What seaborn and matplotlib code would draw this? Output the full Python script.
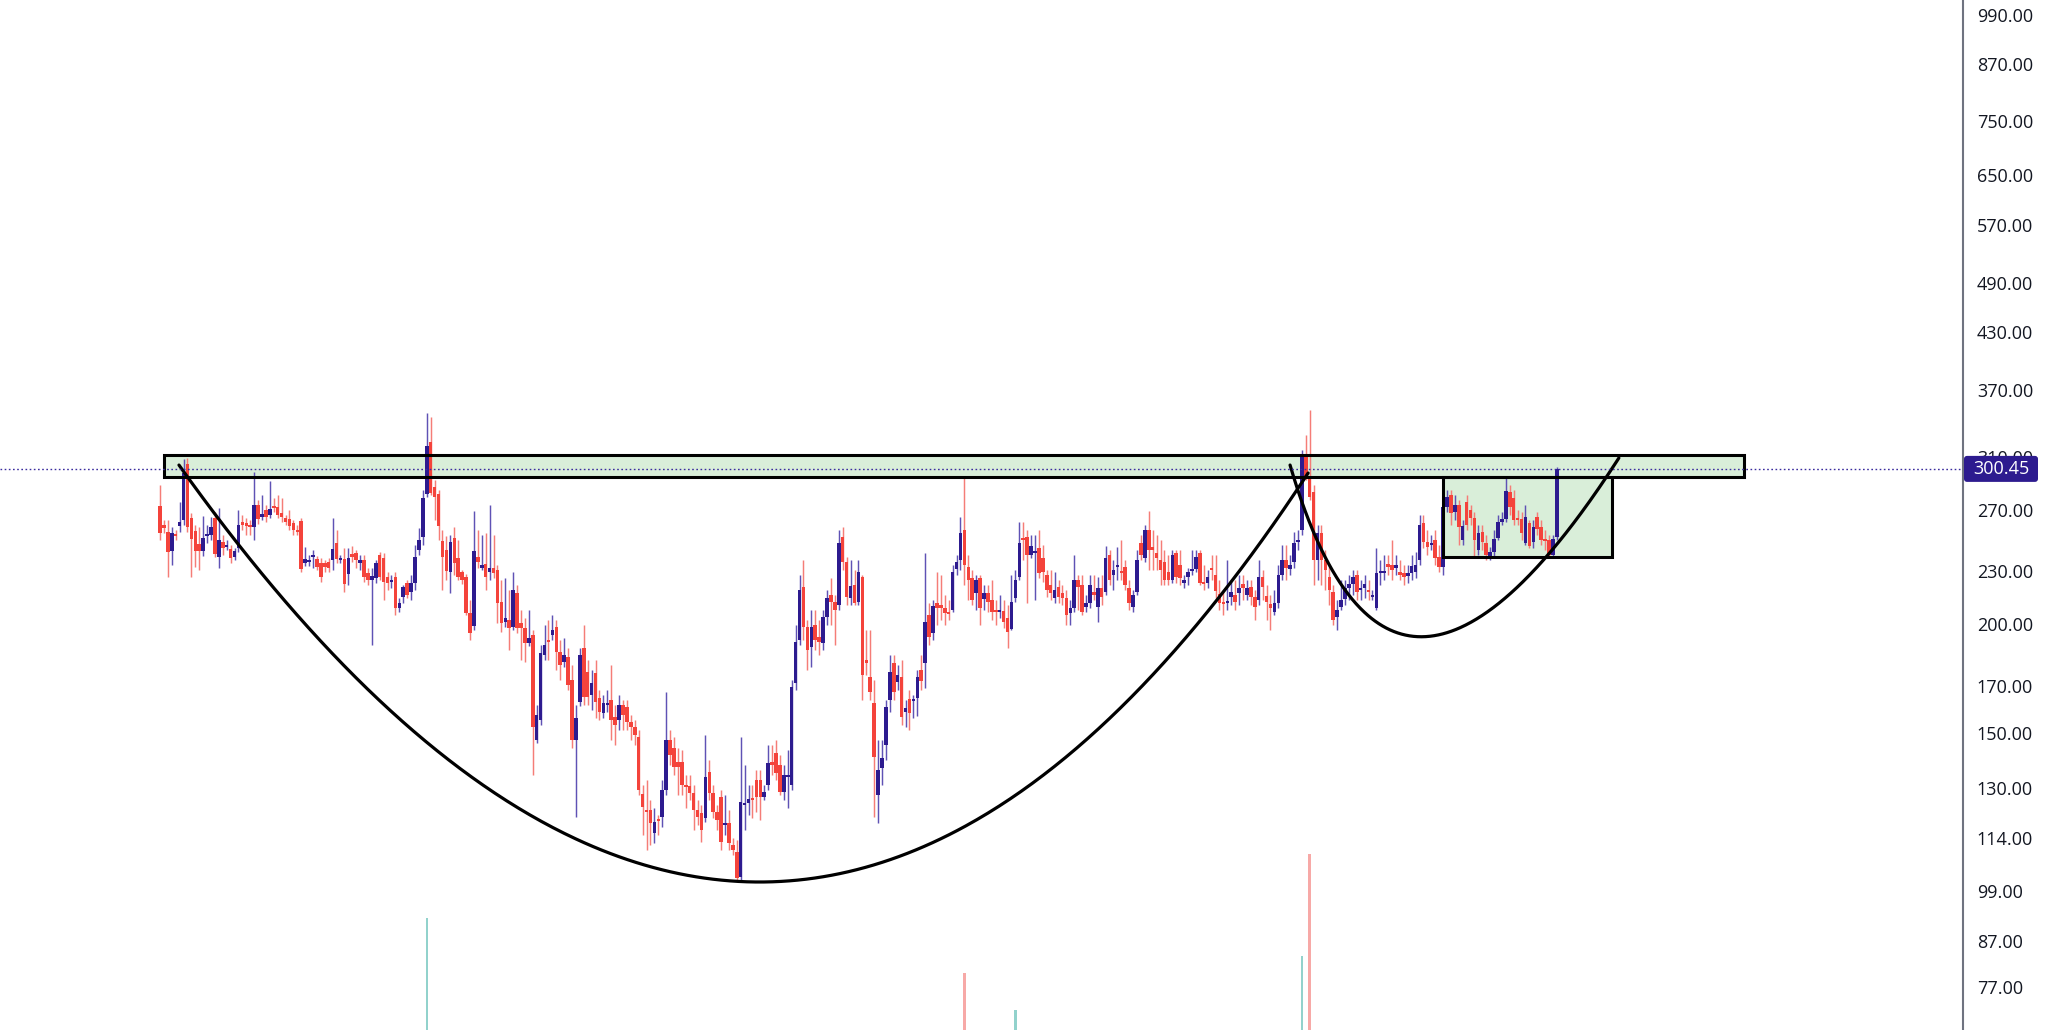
import numpy as np
import matplotlib
matplotlib.use("Agg")
import matplotlib.pyplot as plt
from matplotlib.patches import Rectangle, FancyBboxPatch
from matplotlib.ticker import FixedLocator, FixedFormatter, NullLocator
from matplotlib.transforms import IdentityTransform
import seaborn as sns

# ---------------- data ----------------
opens = [
    272.5, 259.2, 254.5, 242.2, 253.2, 258.4, 262.6, 304.1, 264.0, 255.2,
    246.7, 242.2, 251.9, 252.5, 264.0, 238.5, 248.0, 244.7, 243.5, 238.5,
    244.1, 261.2, 260.5, 259.2, 257.8, 273.2, 264.7, 269.7, 266.1, 272.5,
    271.8, 267.5, 264.0, 263.3, 260.5, 255.8, 261.9, 234.6, 235.3, 238.5,
    237.1, 234.6, 234.6, 235.3, 236.5, 247.3, 236.5, 237.1, 228.0, 240.3,
    241.0, 234.6, 236.5, 228.6, 224.4, 225.6, 239.7, 237.8, 226.2, 223.2,
    226.2, 208.5, 214.6, 222.6, 217.4, 222.6, 242.8, 251.2, 281.0, 322.7,
    286.3, 281.0, 248.6, 242.8, 229.2, 250.6, 237.8, 229.2, 226.2, 205.8,
    198.8, 238.5, 231.6, 234.0, 229.2, 231.6, 230.4, 211.8, 200.9, 202.0,
    198.3, 216.8, 200.4, 197.7, 190.1, 194.1, 147.3, 155.3, 184.2, 191.6,
    194.1, 198.3, 185.7, 180.8, 183.2, 172.5, 147.3, 162.7, 187.7, 176.1,
    165.8, 175.7, 164.5, 158.2, 161.5, 163.6, 156.5, 155.3, 161.5, 160.6,
    154.5, 152.5, 148.5, 127.8, 122.6, 122.6, 115.4, 119.4, 120.4, 129.2,
    147.3, 144.2, 139.1, 139.1, 130.9, 130.5, 128.2, 122.6, 121.6, 120.1,
    135.5, 128.2, 122.0, 126.9, 117.8, 118.5, 111.8, 109.8, 102.8, 124.2,
    124.9, 126.6, 132.6, 132.6, 126.9, 130.9, 139.1, 142.4, 138.0, 128.5,
    133.7, 130.9, 171.1, 191.6, 220.3, 198.3, 188.2, 199.3, 193.1, 190.1,
    203.6, 215.7, 211.8, 210.1, 251.2, 235.3, 214.0, 221.5, 211.8, 226.2,
    181.8, 173.9, 162.3, 127.5, 136.9, 145.4, 163.6, 180.3, 171.6, 173.9,
    158.6, 164.0, 163.2, 164.5, 177.1, 180.3, 204.7, 195.2, 211.2, 210.1,
    208.5, 206.3, 207.4, 231.0, 236.5, 255.8, 232.2, 225.6, 216.8, 225.6,
    213.4, 216.8, 212.9, 207.4, 206.3, 206.9, 203.1, 197.2, 214.0, 226.2,
    250.6, 251.2, 239.7, 241.0, 244.1, 237.8, 227.4, 221.5, 214.0, 220.3,
    216.8, 214.0, 205.8, 208.5, 224.4, 221.5, 209.0, 211.2, 217.4, 209.0,
    219.7, 217.4, 239.7, 227.4, 232.2, 229.2, 232.2, 219.7, 209.0, 217.4,
    247.3, 237.8, 255.8, 244.7, 241.0, 236.5, 235.3, 229.2, 224.4, 241.0,
    233.4, 222.6, 226.2, 229.8, 231.0, 241.0, 222.6, 222.6, 231.6, 227.4,
    216.2, 211.2, 211.2, 214.6, 215.7, 216.8, 222.0, 215.7, 220.3, 214.6,
    212.9, 226.2, 215.1, 210.7, 206.3, 211.2, 227.4, 236.5, 231.0, 235.3,
    248.0, 255.8, 310.0, 294.0, 282.5, 236.5, 253.8, 236.5, 226.2, 217.4,
    203.6, 209.0, 213.4, 219.7, 222.0, 227.4, 218.5, 219.7, 217.9, 214.6,
    208.5, 228.6, 228.6, 234.0, 233.4, 231.6, 229.2, 228.6, 226.8, 228.6,
    229.2, 236.5, 260.5, 248.0, 246.0, 249.3, 238.5, 232.2, 271.8, 280.3,
    268.3, 273.2, 249.3, 275.4, 269.7, 264.0, 242.8, 254.5, 247.3, 238.5,
    241.5, 250.6, 261.2, 263.3, 282.5, 278.2, 264.0, 263.3, 247.3, 260.5,
    248.0, 264.7, 257.8, 249.9, 249.3, 239.7, 251.2,
]
closes = [
    253.8, 257.2, 241.5, 253.8, 251.9, 261.2, 297.2, 257.8, 249.9, 242.2,
    242.2, 250.6, 253.2, 257.8, 240.0, 249.3, 244.1, 246.0, 237.8, 242.2,
    259.2, 259.2, 258.5, 257.8, 273.2, 263.3, 266.8, 264.7, 270.4, 271.1,
    266.1, 264.7, 261.2, 258.5, 255.8, 254.5, 231.0, 237.1, 236.5, 239.7,
    232.2, 226.2, 232.2, 231.6, 243.5, 237.1, 237.1, 222.0, 237.8, 238.5,
    236.5, 236.5, 226.2, 224.4, 226.8, 234.6, 226.2, 223.2, 222.6, 224.4,
    208.5, 211.2, 220.3, 215.7, 222.6, 238.5, 249.3, 278.2, 319.3, 281.7,
    278.9, 258.5, 238.5, 229.8, 248.0, 234.6, 226.2, 224.4, 205.8, 195.2,
    242.2, 235.3, 233.4, 226.2, 231.6, 228.6, 211.2, 200.4, 203.1, 197.7,
    218.5, 197.7, 197.7, 190.1, 192.6, 152.5, 157.3, 185.2, 189.1, 190.6,
    196.7, 185.7, 179.4, 184.2, 170.2, 147.3, 156.1, 184.2, 164.9, 164.9,
    171.1, 162.7, 158.6, 162.3, 162.3, 155.3, 153.3, 161.5, 157.3, 154.5,
    152.5, 149.3, 129.2, 123.6, 122.0, 118.5, 118.8, 119.1, 129.2, 147.3,
    141.7, 137.3, 137.3, 130.9, 130.2, 128.2, 122.6, 120.4, 116.3, 133.7,
    128.2, 122.0, 119.4, 112.7, 118.5, 112.4, 110.4, 102.5, 125.2, 124.9,
    126.2, 125.9, 126.9, 126.9, 128.5, 138.7, 138.0, 135.1, 128.5, 134.4,
    134.4, 169.3, 190.6, 218.5, 198.3, 186.7, 198.3, 191.6, 190.6, 203.6,
    214.0, 211.8, 207.4, 247.3, 235.3, 214.6, 220.9, 211.2, 229.2, 174.8,
    180.3, 167.1, 140.9, 136.2, 140.5, 160.6, 176.1, 167.1, 174.8, 156.5,
    160.2, 158.2, 164.0, 173.9, 172.0, 200.9, 193.1, 209.6, 208.5, 208.5,
    205.8, 205.3, 229.2, 235.3, 253.8, 233.4, 224.4, 212.9, 224.4, 208.5,
    216.8, 211.8, 206.3, 206.3, 206.9, 200.9, 195.6, 211.8, 224.4, 247.3,
    249.3, 239.7, 245.4, 242.2, 228.6, 229.2, 218.5, 216.8, 218.5, 214.6,
    214.0, 204.7, 208.5, 224.4, 220.3, 206.3, 211.2, 221.5, 215.7, 219.7,
    214.6, 237.8, 224.4, 230.4, 233.4, 228.6, 221.5, 211.2, 215.7, 236.5,
    239.7, 255.8, 242.8, 242.8, 237.8, 230.4, 224.4, 224.4, 239.7, 226.2,
    225.6, 224.4, 229.2, 231.0, 238.5, 222.6, 222.0, 226.2, 230.4, 217.9,
    211.2, 210.7, 212.3, 217.4, 211.8, 219.7, 219.7, 219.7, 214.6, 209.0,
    226.2, 220.3, 211.8, 208.5, 211.2, 227.4, 236.5, 231.6, 233.4, 247.3,
    248.6, 310.0, 294.0, 278.9, 236.5, 253.8, 236.5, 230.4, 218.5, 202.0,
    207.4, 212.9, 219.7, 222.0, 226.2, 217.4, 219.7, 222.0, 217.4, 215.1,
    228.6, 229.2, 229.8, 232.2, 230.4, 233.4, 227.4, 226.2, 228.6, 232.8,
    233.4, 259.2, 248.0, 244.7, 247.3, 237.8, 232.2, 271.8, 278.9, 267.5,
    273.2, 257.8, 258.5, 259.2, 264.0, 249.3, 253.8, 248.0, 239.7, 241.5,
    249.9, 261.2, 263.3, 283.2, 271.8, 262.6, 262.6, 253.8, 264.7, 245.4,
    257.8, 256.5, 249.3, 248.6, 239.7, 249.9, 300.45,
]
highs = [
    287.9, 262.6, 262.6, 257.8, 255.8, 275.4, 308.4, 309.2, 267.5, 259.2,
    257.8, 265.4, 259.2, 264.7, 268.3, 271.1, 252.5, 249.3, 246.0, 244.1,
    269.7, 266.1, 264.0, 262.6, 298.0, 276.8, 280.3, 273.2, 290.9, 278.6,
    280.3, 278.6, 266.1, 269.7, 262.6, 259.2, 264.0, 244.7, 239.7, 242.8,
    239.0, 237.8, 236.5, 237.8, 264.0, 255.8, 239.7, 244.1, 244.1, 245.4,
    242.8, 239.7, 239.7, 231.6, 231.6, 236.5, 241.5, 241.0, 229.2, 227.4,
    229.2, 214.0, 221.5, 224.4, 227.4, 246.0, 257.2, 284.0, 348.0, 344.4,
    291.7, 284.0, 255.8, 251.9, 252.5, 257.8, 249.3, 230.4, 228.0, 212.9,
    269.0, 255.8, 252.5, 253.8, 273.2, 252.5, 233.4, 224.4, 225.6, 218.5,
    229.2, 221.5, 207.4, 203.1, 207.4, 196.7, 161.5, 189.1, 199.3, 202.0,
    204.7, 202.0, 191.6, 192.6, 187.7, 179.4, 161.5, 187.7, 199.3, 181.8,
    177.1, 181.8, 168.0, 165.8, 168.0, 179.4, 161.5, 165.8, 163.6, 163.6,
    157.3, 155.3, 151.3, 130.9, 132.6, 125.9, 123.3, 121.0, 132.6, 167.1,
    151.3, 148.5, 144.2, 143.5, 134.4, 134.4, 130.9, 125.9, 124.2, 149.3,
    139.8, 130.9, 124.2, 129.2, 127.5, 122.6, 113.9, 113.3, 148.5, 138.0,
    130.9, 130.9, 136.2, 136.2, 130.9, 145.4, 145.4, 147.3, 141.7, 138.0,
    143.5, 172.5, 199.3, 227.4, 236.5, 202.0, 207.4, 207.4, 202.0, 207.4,
    218.5, 225.6, 215.7, 255.8, 257.8, 238.5, 236.5, 230.4, 236.5, 227.4,
    196.7, 196.7, 172.5, 147.3, 147.3, 163.6, 184.2, 184.2, 179.4, 181.8,
    163.6, 168.0, 165.8, 177.1, 184.2, 240.9, 211.2, 212.9, 229.2, 227.4,
    215.7, 212.9, 233.4, 239.7, 264.7, 293.2, 239.7, 230.4, 227.4, 227.4,
    221.5, 221.5, 224.4, 212.9, 215.7, 212.9, 210.1, 227.4, 230.4, 261.2,
    261.2, 255.8, 252.5, 252.5, 255.8, 246.0, 230.4, 230.4, 229.2, 224.4,
    221.5, 218.5, 212.9, 239.7, 227.4, 227.4, 215.7, 227.4, 227.4, 226.2,
    227.4, 245.4, 242.8, 236.5, 244.7, 249.3, 236.5, 224.4, 218.5, 242.8,
    252.5, 259.2, 269.0, 255.8, 252.5, 249.3, 242.8, 239.7, 242.8, 242.8,
    242.8, 227.4, 231.6, 242.8, 242.8, 242.8, 233.4, 230.4, 239.7, 239.7,
    224.4, 218.5, 236.5, 224.4, 224.4, 227.4, 227.4, 224.4, 224.4, 218.5,
    236.5, 230.4, 221.5, 215.7, 218.5, 233.4, 246.0, 246.0, 239.7, 254.5,
    255.8, 316.0, 328.4, 350.7, 288.0, 259.2, 259.2, 242.8, 233.4, 221.5,
    212.9, 224.4, 224.4, 227.4, 230.4, 230.4, 224.4, 227.4, 224.4, 218.5,
    244.1, 236.5, 239.7, 239.7, 249.3, 239.7, 236.5, 233.4, 233.4, 239.7,
    241.5, 266.1, 266.1, 255.8, 252.5, 255.8, 246.0, 276.8, 284.0, 284.0,
    280.3, 276.8, 262.6, 280.3, 273.2, 268.3, 259.2, 259.2, 252.5, 244.7,
    255.8, 266.1, 268.3, 294.1, 287.8, 284.0, 269.7, 268.3, 273.2, 262.6,
    262.6, 268.3, 262.6, 255.8, 252.5, 252.5, 302.0,
]
lows = [
    249.3, 253.8, 226.2, 233.4, 249.3, 254.5, 259.2, 254.5, 226.2, 232.2,
    230.4, 239.0, 247.3, 249.3, 238.5, 231.6, 239.7, 242.8, 234.6, 236.5,
    241.5, 255.8, 252.5, 252.5, 249.3, 259.9, 262.6, 261.2, 264.0, 268.3,
    264.0, 261.2, 259.2, 255.8, 252.5, 252.5, 229.2, 232.8, 232.8, 231.6,
    230.4, 223.2, 229.2, 229.2, 230.4, 234.6, 234.6, 217.4, 221.5, 235.3,
    231.6, 230.4, 223.2, 221.5, 189.1, 222.6, 224.4, 212.9, 218.5, 219.7,
    204.7, 206.3, 211.2, 214.0, 212.9, 218.5, 239.7, 246.0, 278.9, 280.3,
    262.6, 249.3, 218.5, 224.4, 216.8, 227.4, 224.4, 222.0, 204.7, 191.6,
    196.7, 231.6, 230.4, 218.5, 224.4, 225.6, 200.4, 195.6, 198.3, 186.7,
    196.7, 195.2, 181.8, 180.8, 188.6, 134.4, 146.2, 153.3, 181.8, 181.8,
    191.6, 177.1, 172.5, 178.5, 168.0, 144.2, 120.4, 161.0, 161.5, 161.5,
    159.4, 156.1, 155.3, 156.1, 158.6, 147.3, 145.4, 151.3, 151.3, 151.3,
    147.3, 145.4, 127.5, 114.8, 110.4, 111.8, 112.4, 114.8, 117.3, 127.5,
    138.0, 134.4, 127.5, 127.5, 123.3, 125.9, 116.3, 117.8, 112.7, 118.8,
    125.9, 120.1, 116.3, 110.4, 114.8, 110.4, 108.9, 102.0, 102.0, 116.3,
    121.0, 120.1, 122.0, 119.4, 125.9, 129.2, 134.4, 132.6, 127.5, 125.9,
    123.3, 129.2, 168.0, 189.1, 191.6, 177.1, 178.5, 186.7, 184.2, 186.7,
    199.3, 199.3, 189.1, 207.4, 230.4, 210.1, 210.1, 210.1, 210.1, 163.6,
    174.8, 163.6, 120.4, 118.5, 130.9, 139.8, 158.6, 163.6, 168.0, 153.3,
    152.5, 151.3, 156.1, 156.9, 168.0, 168.9, 189.1, 191.6, 199.3, 202.0,
    199.3, 202.0, 206.3, 227.4, 230.4, 221.5, 212.9, 210.1, 207.4, 199.3,
    207.4, 206.3, 202.0, 199.3, 203.1, 197.7, 187.7, 196.7, 211.8, 224.4,
    236.5, 211.2, 237.8, 212.9, 225.6, 223.2, 214.6, 212.9, 211.2, 211.2,
    210.1, 199.3, 199.3, 206.3, 207.4, 204.7, 206.3, 208.5, 212.9, 200.9,
    210.1, 215.7, 221.5, 218.5, 224.4, 224.4, 218.5, 207.4, 206.3, 215.7,
    236.5, 235.3, 230.4, 230.4, 230.4, 221.5, 221.5, 221.5, 222.6, 222.6,
    221.5, 219.7, 221.5, 227.4, 229.2, 221.5, 218.5, 219.7, 224.4, 214.0,
    207.4, 204.7, 207.4, 210.1, 207.4, 210.1, 212.9, 212.9, 210.1, 202.0,
    210.1, 212.9, 202.0, 196.7, 204.7, 208.5, 224.4, 224.4, 227.4, 231.6,
    242.8, 252.5, 291.7, 276.8, 221.5, 224.4, 221.5, 218.5, 210.1, 199.3,
    196.7, 207.4, 210.1, 212.9, 215.7, 212.9, 212.9, 214.0, 212.9, 212.9,
    207.4, 221.5, 224.4, 227.4, 224.4, 227.4, 224.4, 221.5, 222.6, 224.4,
    225.6, 233.4, 244.1, 239.7, 242.8, 233.4, 229.2, 227.4, 268.3, 259.2,
    262.6, 246.0, 246.0, 255.8, 259.2, 238.5, 239.7, 242.8, 236.5, 236.5,
    237.8, 249.3, 259.2, 261.2, 266.1, 259.2, 259.2, 249.3, 246.0, 244.1,
    244.1, 252.5, 246.0, 242.8, 238.5, 237.8, 249.3,
]

# visible volume spikes (candle index, volume in millions)
vol_idx = [68, 205, 218, 291, 293]
vol_values = [10.6, 7.85, 6.0, 8.7, 13.8]

price_ticks = [77, 87, 99, 114, 130, 150, 170, 200, 230, 270, 310, 370,
               430, 490, 570, 650, 750, 870, 990]
last_price = 300.45

# drawing annotations (candle index / price anchors)
band_x = [1.0, 403.7]
band_p = [294.0, 311.8]
handle_box_x = [327.0, 370.0]
handle_box_p = [238.4, 294.0]
cup_x = [4.84, 155.5, 292.6]
cup_p = [303.5, 34.3, 297.2]
handle_x = [288.0, 313.8, 371.8]
handle_p = [303.5, 122.0, 309.2]

# ---------------- style ----------------
sns.set_theme(style="white")
plt.rcParams['font.family'] = ['Open Sans', 'DejaVu Sans']

UP = '#2d1b8f'
DN = '#f4433b'
UP_WICK = '#5f52b5'
DN_WICK = '#f57d77'
GREEN = '#d9eed9'
LABEL_BG = '#2d1b8f'

W, H = 2048, 1030
fig = plt.figure(figsize=(W / 100, H / 100), dpi=100)
fig.patch.set_facecolor('white')
ax_w = 1963 / W
ax_vol = fig.add_axes([0, 0, ax_w, 1])
ax = fig.add_axes([0, 0, ax_w, 1], sharex=ax_vol)
ax.patch.set_visible(False)

n = len(closes)
assert len(opens) == n and len(highs) == n and len(lows) == n, (len(opens), len(closes), len(highs), len(lows))
idx = np.arange(n)
o = np.array(opens); c = np.array(closes); h = np.array(highs); l = np.array(lows)
up = c >= o

# volume
vcols = [('#92d2cc' if up[i] else '#f7a9a7') for i in vol_idx]
ax_vol.bar(vol_idx, vol_values, width=0.65, color=vcols, linewidth=0)
ax_vol.set_ylim(5.0, 56.5)
ax_vol.axis('off')

# main price axis
ax.set_yscale('log')
ax.set_xlim(-40.77, 459.5)
ax.set_ylim(68.8, 1029.8)

# band + handle box fills
ax.add_patch(Rectangle((band_x[0], band_p[0]), band_x[1] - band_x[0], band_p[1] - band_p[0],
                       fc=GREEN, ec='none', zorder=1))
ax.add_patch(Rectangle((handle_box_x[0], handle_box_p[0]), handle_box_x[1] - handle_box_x[0],
                       handle_box_p[1] - handle_box_p[0], fc=GREEN, ec='none', zorder=1))

# candles
b_lo = np.minimum(o, c)
b_hi = np.maximum(np.maximum(o, c), b_lo * 1.005)
w_lo = np.minimum(l, b_lo)
w_hi = np.maximum(h, b_hi)
ax.vlines(idx[up], w_lo[up], w_hi[up], color=UP_WICK, lw=1.05, zorder=2)
ax.vlines(idx[~up], w_lo[~up], w_hi[~up], color=DN_WICK, lw=1.05, zorder=2)
ax.bar(idx[up], (b_hi - b_lo)[up], bottom=b_lo[up], width=0.9, color=UP, linewidth=0, zorder=3)
ax.bar(idx[~up], (b_hi - b_lo)[~up], bottom=b_lo[~up], width=0.9, color=DN, linewidth=0, zorder=3)

# rectangle borders
ax.add_patch(Rectangle((band_x[0], band_p[0]), band_x[1] - band_x[0], band_p[1] - band_p[0],
                       fc='none', ec='black', lw=2.2, zorder=6))
ax.add_patch(Rectangle((handle_box_x[0], handle_box_p[0]), handle_box_x[1] - handle_box_x[0],
                       handle_box_p[1] - handle_box_p[0], fc='none', ec='black', lw=2.2, zorder=6))


def bezier(xs, ps, m=400):
    t = np.linspace(0, 1, m)
    lp = np.log(ps)
    x = (1 - t) ** 2 * xs[0] + 2 * t * (1 - t) * xs[1] + t ** 2 * xs[2]
    y = np.exp((1 - t) ** 2 * lp[0] + 2 * t * (1 - t) * lp[1] + t ** 2 * lp[2])
    return x, y


cx, cy = bezier(cup_x, cup_p)
sns.lineplot(x=cx, y=cy, sort=False, estimator=None, color='black', lw=2.3, ax=ax, zorder=7)
hx, hy = bezier(handle_x, handle_p)
sns.lineplot(x=hx, y=hy, sort=False, estimator=None, color='black', lw=2.3, ax=ax, zorder=7)

# last price dotted line
ax.axhline(last_price, color='#3b2c9e', lw=1.0, ls=(0, (1.2, 1.8)), zorder=8)

# axes styling
for s in ['top', 'left', 'bottom']:
    ax.spines[s].set_visible(False)
ax.spines['right'].set_visible(True)
ax.spines['right'].set_color('#6f7380')
ax.spines['right'].set_linewidth(1.5)
ax.set_xticks([])
ax.yaxis.tick_right()
ax.yaxis.set_major_locator(FixedLocator(price_ticks))
ax.yaxis.set_major_formatter(FixedFormatter([f"{v:.2f}" for v in price_ticks]))
ax.yaxis.set_minor_locator(NullLocator())
ax.tick_params(axis='y', length=0, pad=10, labelsize=13, labelcolor='#131722')
ax.set_xlabel('')
ax.set_ylabel('')
ax.grid(False)

# price label on the axis
fig.canvas.draw()
_, yd = ax.transData.transform((0, last_price))
xd = ax.transAxes.transform((1, 0))[0]
box = FancyBboxPatch((xd + 1, yd - 13), 74, 26,
                     boxstyle='round,pad=0,rounding_size=3',
                     fc=LABEL_BG, ec='none', transform=IdentityTransform(), zorder=20)
fig.add_artist(box)
fig.text((xd + 1 + 37) / W, yd / H, f"{last_price:.2f}", ha='center', va='center',
         color='white', fontsize=13, zorder=21)

fig.savefig('out.png', dpi=100, facecolor='white')
